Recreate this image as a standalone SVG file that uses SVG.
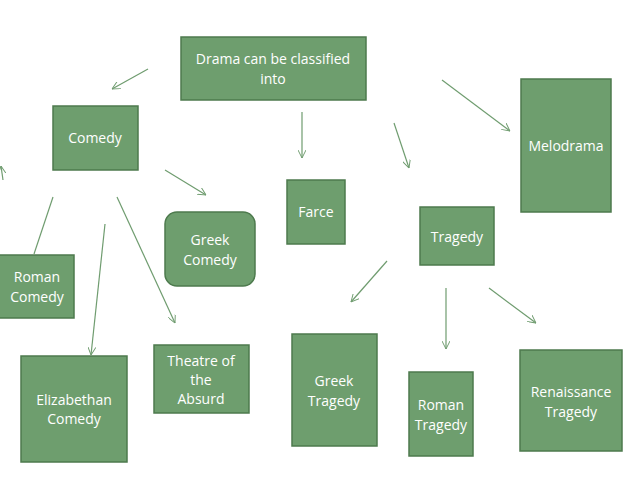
<svg xmlns="http://www.w3.org/2000/svg" width="638" height="478" viewBox="0 0 638 478">
<defs>
<marker id="a" viewBox="0 0 10 10" refX="10" refY="5" markerWidth="8" markerHeight="8" orient="auto" markerUnits="userSpaceOnUse"><path d="M0,0 L10,5 L0,10" fill="none" stroke="#6f9c6f" stroke-width="1.2"/></marker>
<style>
.n{fill:#6e9e6e;stroke:#4d7a4d;stroke-width:1.5}
.t{fill:#fff;font-family:"Open Sans","Noto Sans",sans-serif;font-size:14px;text-anchor:middle}
.c line{stroke:#6f9c6f;stroke-width:1.2;marker-end:url(#a)}
</style>
</defs>
<rect width="638" height="478" fill="#fff"/>
<g class="c">
<line x1="148" y1="69" x2="112" y2="89"/>
<line x1="302" y1="112" x2="302" y2="158"/>
<line x1="394" y1="123" x2="409" y2="168"/>
<line x1="442" y1="80" x2="510" y2="131"/>
<line x1="165" y1="170" x2="206" y2="195"/>
<line x1="53" y1="197" x2="34" y2="254" style="marker-end:none"/>
<line x1="105" y1="224" x2="91" y2="355"/>
<line x1="117" y1="197" x2="175" y2="323"/>
<line x1="387" y1="261" x2="351" y2="302"/>
<line x1="446" y1="288" x2="446" y2="349"/>
<line x1="489" y1="288" x2="536" y2="323"/>
<line x1="3" y1="180" x2="1" y2="166"/>
</g>
<g id="drama"><rect class="n" x="181" y="37" width="185" height="63"/><text class="t" x="273" y="64">Drama can be classified</text><text class="t" x="273" y="84">into</text></g>
<g id="comedy"><rect class="n" x="53" y="106" width="85" height="64"/><text class="t" x="95" y="143">Comedy</text></g>
<g id="melodrama"><rect class="n" x="521" y="79" width="90" height="133"/><text class="t" x="566" y="151">Melodrama</text></g>
<g id="farce"><rect class="n" x="287" y="180" width="58" height="64"/><text class="t" x="316" y="217">Farce</text></g>
<g id="greekcomedy"><rect class="n" x="165" y="212" width="90" height="74" rx="12"/><text class="t" x="210" y="245">Greek</text><text class="t" x="210" y="265">Comedy</text></g>
<g id="tragedy"><rect class="n" x="420" y="207" width="74" height="58"/><text class="t" x="457" y="242">Tragedy</text></g>
<g id="romancomedy"><rect class="n" x="-2" y="255" width="76" height="63"/><text class="t" x="37" y="282">Roman</text><text class="t" x="37" y="302">Comedy</text></g>
<g id="elizabethan"><rect class="n" x="21" y="356" width="106" height="106"/><text class="t" x="74" y="405">Elizabethan</text><text class="t" x="74" y="424">Comedy</text></g>
<g id="absurd"><rect class="n" x="154" y="345" width="95" height="68"/><text class="t" x="201" y="366">Theatre of</text><text class="t" x="201" y="385">the</text><text class="t" x="201" y="404">Absurd</text></g>
<g id="greektragedy"><rect class="n" x="292" y="334" width="85" height="112"/><text class="t" x="334" y="386">Greek</text><text class="t" x="334" y="406">Tragedy</text></g>
<g id="romantragedy"><rect class="n" x="409" y="372" width="64" height="84"/><text class="t" x="441" y="410">Roman</text><text class="t" x="441" y="430">Tragedy</text></g>
<g id="renaissance"><rect class="n" x="520" y="350" width="102" height="101"/><text class="t" x="571" y="397">Renaissance</text><text class="t" x="571" y="417">Tragedy</text></g>
</svg>
